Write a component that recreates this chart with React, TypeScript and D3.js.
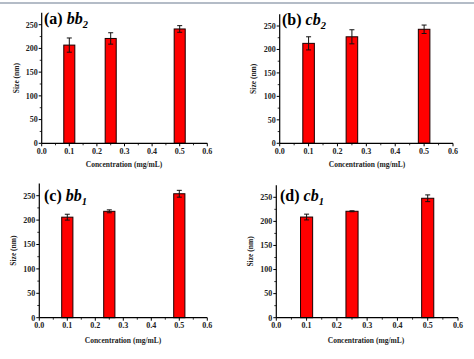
import React from "react";
import * as d3 from "d3";

const concentrations = [0.1, 0.25, 0.5];
const xTicks = [0, 0.1, 0.2, 0.3, 0.4, 0.5, 0.6];
const yTicks = [0, 50, 100, 150, 200, 250];

const bb2 = [207, 221, 241];
const bb2Err = [15, 12, 7];
const cb2 = [213, 227, 243];
const cb2Err = [14, 15, 9];
const bb1 = [206, 218, 254];
const bb1Err = [6, 3, 7];
const cb1 = [209, 221, 248];
const cb1Err = [6, 1, 7];

const panelLetters = ["(a)", "(b)", "(c)", "(d)"];
const panelNames = ["bb", "cb", "bb", "cb"];
const panelSubs = ["2", "2", "1", "1"];
const panelValues = [bb2, cb2, bb1, cb1];
const panelErrors = [bb2Err, cb2Err, bb1Err, cb1Err];

const layouts = [
  { x0: 41.7, x1: 207.3, y0: 143.3, y250: 24.7, lx: 44, ly: 24, tx: 124, ty: 167, sx: 19 },
  { x0: 279.7, x1: 453, y0: 143.3, y250: 26, lx: 282, ly: 24.5, tx: 367, ty: 167, sx: 256 },
  { x0: 39.3, x1: 207.3, y0: 317.7, y250: 195.7, lx: 44, ly: 200.5, tx: 123, ty: 343, sx: 16 },
  { x0: 276.3, x1: 458, y0: 317.7, y250: 197.3, lx: 280, ly: 200.5, tx: 366, ty: 343, sx: 253 },
];

const FONT = "'Liberation Serif', 'Times New Roman', serif";

function Panel({ idx }: { idx: number }) {
  const L = layouts[idx];
  const values = panelValues[idx];
  const errs = panelErrors[idx];
  const x = d3.scaleLinear().domain([0, 0.6]).range([L.x0, L.x1]);
  const y = d3.scaleLinear().domain([0, 250]).range([L.y0, L.y250]);
  const yMax = 275;
  const barW = x(0.04) - x(0);
  const minorX = d3.range(0.05, 0.6, 0.1);
  const minorY = d3.range(25, 275, 50);
  return (
    <g fontFamily={FONT} fontWeight="bold">
      {concentrations.map((c, i) => {
        const bx = x(c) - barW / 2;
        const top = y(values[i]);
        const cx = x(c);
        return (
          <g key={i}>
            <rect x={bx} y={top} width={barW} height={L.y0 - top} fill="#ff0000" stroke="#1a0000" strokeWidth={1} />
            <line x1={cx} x2={cx} y1={y(values[i] + errs[i])} y2={y(values[i] - errs[i])} stroke="#111" strokeWidth={1} />
            <line x1={cx - 2.5} x2={cx + 2.5} y1={y(values[i] + errs[i])} y2={y(values[i] + errs[i])} stroke="#111" strokeWidth={1} />
            <line x1={cx - 2.5} x2={cx + 2.5} y1={y(values[i] - errs[i])} y2={y(values[i] - errs[i])} stroke="#111" strokeWidth={1} />
          </g>
        );
      })}
      <line x1={L.x0} x2={L.x0} y1={L.y0} y2={y(yMax)} stroke="#000" strokeWidth={1.2} />
      <line x1={L.x0} x2={L.x1} y1={L.y0} y2={L.y0} stroke="#000" strokeWidth={1.2} />
      {xTicks.map((t) => (
        <g key={"xt" + t}>
          <line x1={x(t)} x2={x(t)} y1={L.y0} y2={L.y0 + 3} stroke="#000" strokeWidth={1} />
          <text x={x(t)} y={L.y0 + 10.5} fontSize={8} textAnchor="middle" fill="#222">
            {t.toFixed(1)}
          </text>
        </g>
      ))}
      {minorX.map((t) => (
        <line key={"xm" + t} x1={x(t)} x2={x(t)} y1={L.y0} y2={L.y0 + 2} stroke="#000" strokeWidth={0.8} />
      ))}
      {yTicks.map((t) => (
        <g key={"yt" + t}>
          <line x1={L.x0 - 3} x2={L.x0} y1={y(t)} y2={y(t)} stroke="#000" strokeWidth={1} />
          <text x={L.x0 - 4} y={y(t) + 2.8} fontSize={8} textAnchor="end" fill="#222">
            {t}
          </text>
        </g>
      ))}
      {minorY.map((t) => (
        <line key={"ym" + t} x1={L.x0 - 2} x2={L.x0} y1={y(t)} y2={y(t)} stroke="#000" strokeWidth={0.8} />
      ))}
      <text x={L.tx} y={L.ty} fontSize={7.5} textAnchor="middle" fill="#222">
        Concentration (mg/mL)
      </text>
      <text
        transform={`translate(${L.sx},${(L.y0 + y(yMax)) / 2}) rotate(-90)`}
        fontSize={7.5}
        textAnchor="middle"
        fill="#222"
      >
        Size (nm)
      </text>
      <text x={L.lx} y={L.ly} fontSize={16} fill="#000">
        {panelLetters[idx]}{" "}
        <tspan fontStyle="italic">{panelNames[idx]}</tspan>
        <tspan fontStyle="italic" fontSize={10.5} dy={4}>
          {panelSubs[idx]}
        </tspan>
      </text>
    </g>
  );
}

export default function App() {
  return (
    <svg
      width={474}
      height={359}
      style={{ position: "absolute", left: 0, top: 0, background: "#fff" }}
    >
      <rect width={474} height={359} fill="#fff" />
      <line x1={0} x2={474} y1={3} y2={3} stroke="#9ba6b4" strokeWidth={1.5} />
      {[0, 1, 2, 3].map((i) => (
        <Panel key={i} idx={i} />
      ))}
    </svg>
  );
}
